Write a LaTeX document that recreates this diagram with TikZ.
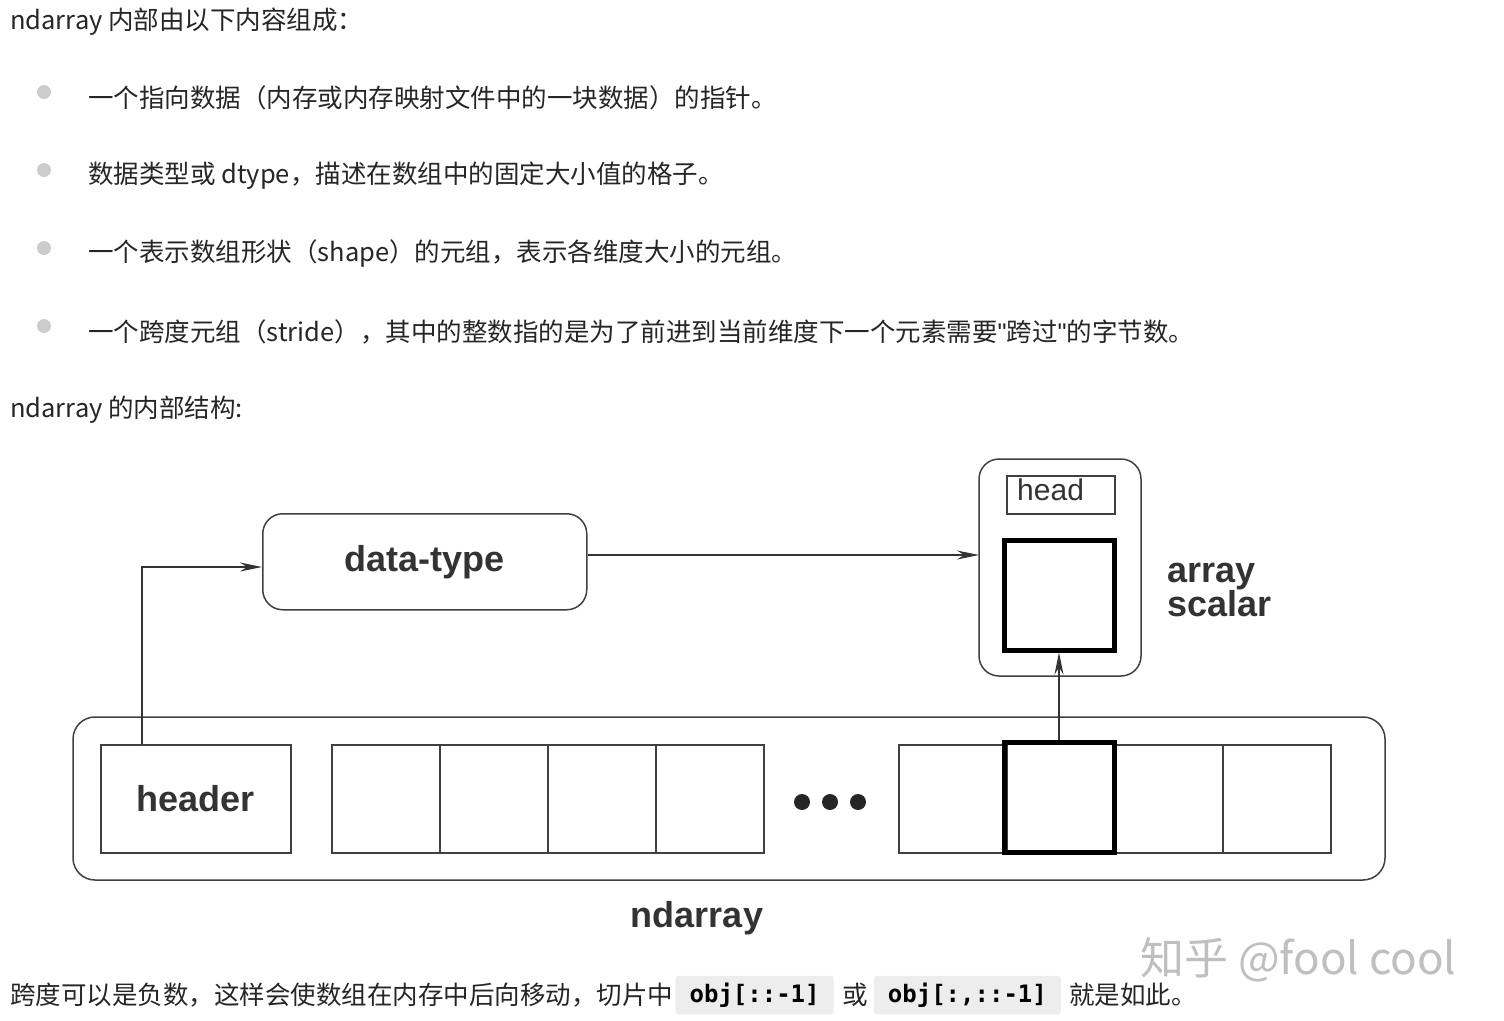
\documentclass[tikz,border=0pt]{standalone}
\usepackage{fontspec}
\setmainfont{Noto Sans CJK SC}
\newfontfamily\dia{Liberation Sans}
\newfontfamily\mono{DejaVu Sans Mono}
\usetikzlibrary{arrows.meta}
\newcommand{\sq}{{\dia\char"22}}
\begin{document}
\begin{tikzpicture}[x=1pt,y=-1pt,
 txt/.style={anchor=west,inner sep=0,font=\fontsize{25.5}{28}\selectfont,text=black!85},
 bul/.style={circle,fill=black!20,inner sep=0,minimum size=14},
 cell/.style={draw=black!75,line width=1.5,minimum width=108,minimum height=108,inner sep=0},
 thick/.style={draw=black,line width=5,minimum width=110,minimum height=110,inner sep=0},
 lbl/.style={font=\dia\bfseries\fontsize{36}{38}\selectfont,text=black!80,inner sep=0},
 arr/.style={draw=black!80,line width=1.5,-{Stealth[length=22,width=9]}},
 code/.style={fill=black!7,rounded corners=3,font=\mono\bfseries\fontsize{24}{26}\selectfont,inner xsep=14,inner ysep=7,anchor=west}]
\useasboundingbox (0,0) rectangle (1504,1020);
\fill[white] (0,0) rectangle (1504,1020);
\node[txt] (t0) at (10,22) {ndarray 内部由以下内容组成：};
\node[bul] (b1) at (44,92) {}; \node[txt] (t1) at (88,98) {一个指向数据（内存或内存映射文件中的一块数据）的指针。};
\node[bul] (b2) at (44,170) {}; \node[txt] (t2) at (88,176) {数据类型或 dtype，描述在数组中的固定大小值的格子。};
\node[bul] (b3) at (44,248) {}; \node[txt] (t3) at (88,254) {一个表示数组形状（shape）的元组，表示各维度大小的元组。};
\node[bul] (b4) at (44,326) {}; \node[txt] (t4) at (88,332) {一个跨度元组（stride），其中的整数指的是为了前进到当前维度下一个元素需要\sq 跨过\sq 的字节数。};
\node[txt] (t5) at (10,410) {ndarray 的内部结构:};
% diagram
\draw[draw=black!75,line width=1.5,rounded corners=22] (73,717) rectangle (1385,880);
\node[cell,minimum width=190,anchor=north west,lbl] (hdr) at (100,744) {header};
\foreach \i/\x in {1/331,2/439,3/547,4/655}{\node[cell,anchor=north west] (c\i) at (\x,744) {};}
\foreach \i/\x in {5/898,6/1114,7/1222}{\node[cell,anchor=north west] (c\i) at (\x,744) {};}
\node[thick] (sel) at (1059,797) {};
\foreach \x in {802,830,858}{\fill[black!85] (\x,802) circle (8);}
\node[lbl] (nd) at (697,918) {ndarray};
\node[draw=black!75,line width=1.5,rounded corners=20,minimum width=324,minimum height=96,lbl,anchor=north west] (dt) at (262,513) {data-type};
\draw[draw=black!75,line width=1.5,rounded corners=20] (979,459) rectangle (1141,676);
\coordinate (asl) at (979,555);
\node[draw=black!75,line width=1.5,minimum width=108,minimum height=38,anchor=north west,inner sep=0] (head) at (1006,475) {};
\node[font=\dia\fontsize{30}{32}\selectfont,text=black!80,anchor=west,inner sep=0] (headt) at (1017,490) {head};
\node[thick] (inner) at (1059,595) {};
\node[lbl,align=left,anchor=west] (as) at (1167,590) {array\\[-4pt]scalar};
\coordinate (hup) at (142,744);
\draw[arr] (hup) |- (dt.west |- 0,567);
\draw[arr] (dt.east |- 0,555) -- (asl);
\draw[arr] (sel.north) -- (inner.south);
% watermark
\node[font=\fontsize{44}{46}\selectfont,text=black!25,anchor=west,inner sep=0] (wm) at (1140,960) {知乎 @fool cool};
% bottom
\node[txt] (b0) at (10,995) {跨度可以是负数，这样会使数组在内存中后向移动，切片中};
\node[code] (k1) at ([xshift=2]b0.east) {obj[::-1]};
\node[txt] (b6) at ([xshift=8]k1.east) {或};
\node[code] (k2) at ([xshift=6]b6.east) {obj[:,::-1]};
\node[txt] (b7) at ([xshift=8]k2.east) {就是如此。};
\end{tikzpicture}
\end{document}
